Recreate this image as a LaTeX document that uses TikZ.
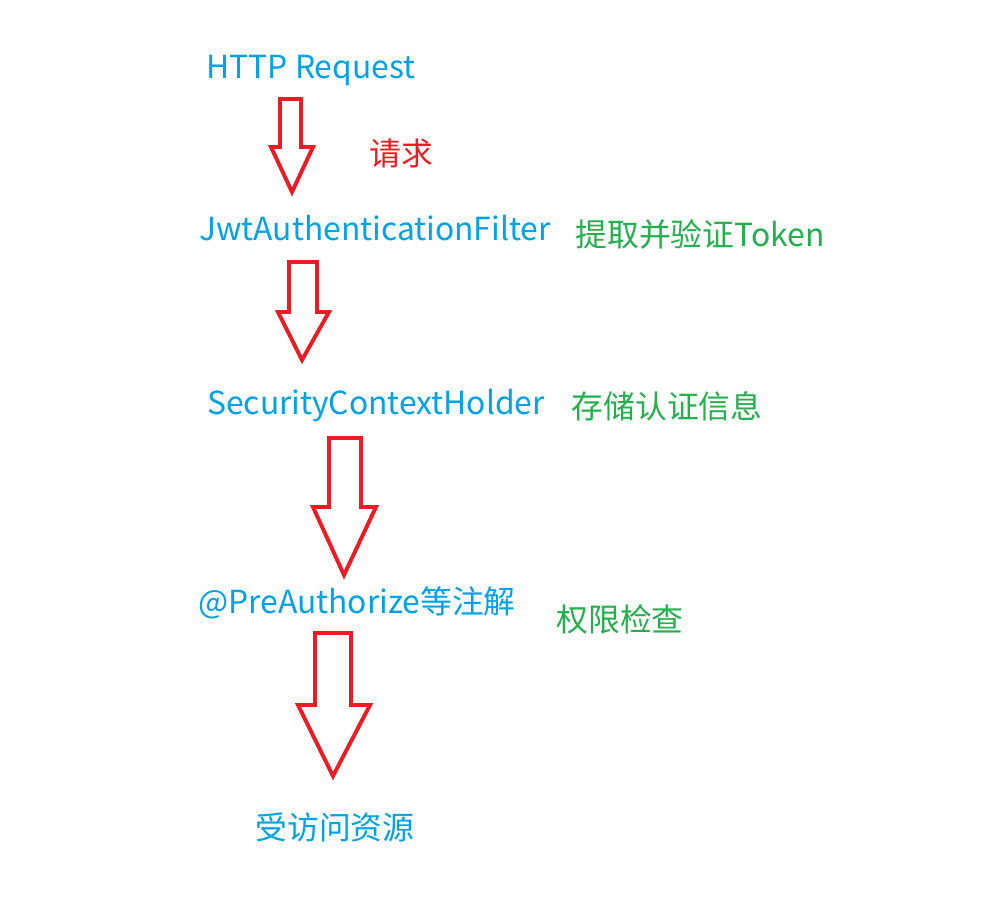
\documentclass[tikz,border=0pt]{standalone}
\usepackage{fontspec}
\setmainfont{Noto Sans CJK SC}
\definecolor{flowblue}{RGB}{0,162,232}
\definecolor{notegreen}{RGB}{34,177,76}
\definecolor{arrowred}{RGB}{237,28,36}
\tikzset{
  stage/.style={text=flowblue, inner sep=0pt, font=\fontsize{22.6}{26}\selectfont},
  note/.style={text=notegreen, inner sep=0pt, font=\fontsize{22.6}{26}\selectfont},
  bigarrow/.style={draw=arrowred, line width=2.8pt, line join=miter, fill=white}
}

\begin{document}
\begin{tikzpicture}[x=0.025cm, y=-0.025cm]
      \useasboundingbox[fill=white] (0,0) rectangle (990,924);
      % flow steps
      \node[stage] (req)    at (311,70)  {HTTP Request};
      \node[stage] (filter) at (375,228) {JwtAuthenticationFilter};
      \node[stage] (holder) at (376,406) {SecurityContextHolder};
      \node[stage] (anno)   at (357,603) {@PreAuthorize等注解};
      \node[stage] (res)    at (335,827) {受访问资源};
      % notes beside the steps
      \node[text=arrowred, inner sep=0pt, font=\fontsize{22.6}{26}\selectfont] (reqnote) at (401,153) {请求};
      \node[note] (filternote) at (700,234) {提取并验证Token};
      \node[note] (holdernote) at (667,406) {存储认证信息};
      \node[note] (annonote)   at (620,619) {权限检查};
      % block arrows
      \draw[bigarrow] (280,99) -- (301,99) -- (301,147) -- (313,147) -- (292,192)
                      -- (271,147) -- (280,147) -- cycle;
      \draw[bigarrow] (289,262) -- (317,262) -- (317,312) -- (329,312) -- (302,360)
                      -- (278,312) -- (289,312) -- cycle;
      \draw[bigarrow] (329,438) -- (361,438) -- (361,507) -- (376,507) -- (344,575)
                      -- (313,507) -- (329,507) -- cycle;
      \draw[bigarrow] (315,633) -- (351,633) -- (351,705) -- (370,705) -- (333,776)
                      -- (298,705) -- (315,705) -- cycle;
    \end{tikzpicture}
\end{document}
